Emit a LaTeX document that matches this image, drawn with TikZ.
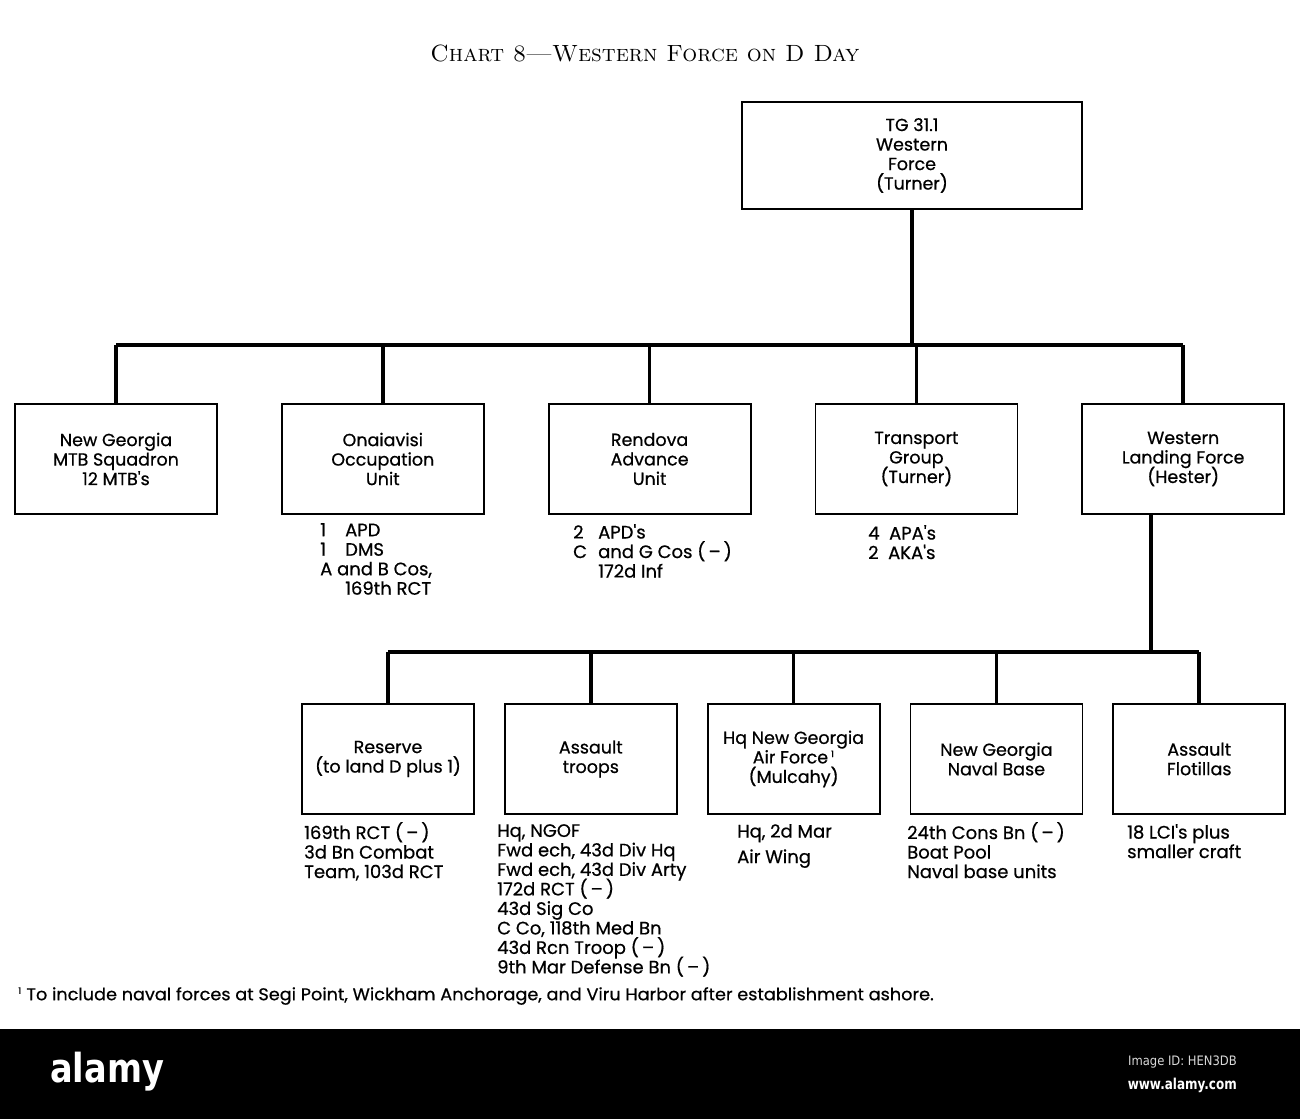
\documentclass[tikz,border=0pt]{standalone}
\usepackage{fontspec}
\newfontfamily\chartfont{Poppins}[FakeBold=0.6]
\newfontfamily\markfont{DejaVu Sans}
\newcommand\tightlines{\lineskiplimit=-20pt\relax}
\usetikzlibrary{positioning}

\begin{document}
\begin{tikzpicture}[x=1pt, y=-1pt,
    unitbox/.style={draw, line width=1.8pt, inner sep=0pt, align=center,
        minimum width=202pt, minimum height=110pt,
        font=\chartfont\fontsize{17.5}{19.5}\selectfont\tightlines},
    subbox/.style={unitbox, minimum width=172pt},
    link/.style={line width=3.6pt},
    note/.style={anchor=north west, inner sep=0pt, align=left,
        font=\chartfont\fontsize{18}{19.5}\selectfont\tightlines}]

\useasboundingbox (0,0) rectangle (1300,1119);

% Title
\node (title) at (645,53) {\fontsize{23.5}{28}\selectfont\textsc{Chart 8---Western Force on D Day}};

% Top
\node[unitbox, minimum width=340pt, minimum height=107pt] (tg) at (912,155.5)
    {TG 31.1\\Western\\Force\\(Turner)};

% Second row
\node[unitbox] (mtb) at (116,459) {New Georgia\\MTB Squadron\\12 MTB's};
\node[unitbox, right=63pt of mtb] (ona) {Onaiavisi\\Occupation\\Unit};
\node[unitbox, right=63pt of ona] (ren) {Rendova\\Advance\\Unit};
\node[unitbox, right=63pt of ren] (trans) {Transport\\Group\\(Turner)};
\node[unitbox, right=63pt of trans] (wlf) {Western\\Landing Force\\(Hester)};

% Third row
\node[subbox] (res) at (388,759) {Reserve\\(to land D plus 1)};
\node[subbox, right=29pt of res] (aslt) {Assault\\troops};
\node[subbox, right=29pt of aslt] (ngaf) {Hq New Georgia\\Air Force\,\textsuperscript{\fontsize{9}{9}\selectfont 1}\\(Mulcahy)};
\node[subbox, right=29pt of ngaf] (ngnb) {New Georgia\\Naval Base};
\node[subbox, right=29pt of ngnb] (flot) {Assault\\Flotillas};

% Connectors
\coordinate (busA) at (0,345);
\coordinate (busB) at (0,652);
\draw[link] (tg.south) -- (tg.south |- busA);
\draw[link] (mtb.north |- busA) -- (wlf.north |- busA);
\foreach \n in {mtb,ona,ren,trans,wlf}
    \draw[link] (\n.north) -- (\n.north |- busA);
\coordinate (wlfout) at ([xshift=-32pt]wlf.south);
\draw[link] (wlfout) -- (wlfout |- busB);
\draw[link] (res.north |- busB) -- (flot.north |- busB);
\foreach \n in {res,aslt,ngaf,ngnb,flot}
    \draw[link] (\n.north) -- (\n.north |- busB);

% Forces under the boxes
\node[note] (onaNote) at (320,523)
    {\makebox[25pt][l]{1}APD\\\makebox[25pt][l]{1}DMS\\A and B Cos,\\\hspace*{25pt}169th RCT};
\node[note] (renNote) at (573,524)
    {\makebox[25pt][l]{2}APD's\\\makebox[25pt][l]{C}and G Cos (\,–\,)\\\hspace*{25pt}172d Inf};
\node[note] (transNote) at (868,525) {4\ \ APA's\\2\ \ AKA's};
\node[note] (resNote) at (304,822) {169th RCT (\,–\,)\\3d Bn Combat\\Team, 103d RCT};
\node[note] (asltNote) at (497,824)
    {Hq, NGOF\\Fwd ech, 43d Div Hq\\Fwd ech, 43d Div Arty\\172d RCT (\,–\,)\\43d Sig Co\\C Co, 118th Med Bn\\43d Rcn Troop (\,–\,)\\9th Mar Defense Bn (\,–\,)};
\node[note] (ngafNote) at (737,824) {Hq, 2d Mar\\[6pt]Air Wing};
\node[note] (ngnbNote) at (907,822) {24th Cons Bn (\,–\,)\\Boat Pool\\Naval base units};
\node[note] (flotNote) at (1127,824) {18 LCI's plus\\smaller craft};

% Footnote
\node[anchor=west, inner sep=0pt] (foot) at (18,996)
    {\scalebox{1.04}[1]{\chartfont\fontsize{17}{18}\selectfont\textsuperscript{\fontsize{9}{9}\selectfont 1} To include naval forces at Segi Point, Wickham Anchorage, and Viru Harbor after establishment ashore.}};

% Band
\fill[black] (0,1029) rectangle (1300,1119);
\node[anchor=west, inner sep=0pt, white] (brand) at (50,1072)
    {\scalebox{0.84}[1]{\markfont\bfseries\fontsize{40}{40}\selectfont alamy}};
\node[anchor=east, inner sep=0pt, white!85!black] (imgid) at (1237,1062)
    {\scalebox{0.89}[1]{\markfont\fontsize{13}{13}\selectfont Image ID: HEN3DB}};
\node[anchor=east, inner sep=0pt, white] (site) at (1237,1085)
    {\scalebox{0.8}[1]{\markfont\bfseries\fontsize{15}{15}\selectfont www.alamy.com}};

\end{tikzpicture}
\end{document}
